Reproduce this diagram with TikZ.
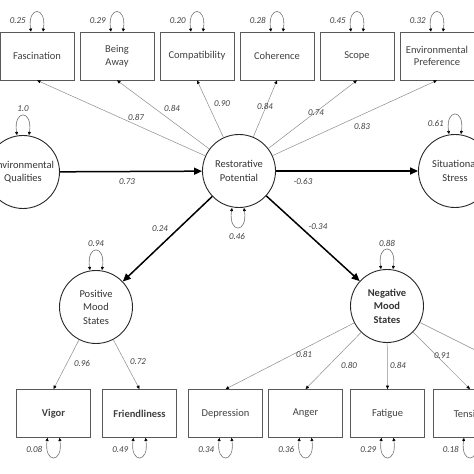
\documentclass[tikz,border=0pt]{standalone}
\usepackage{fontspec}
\setmainfont{Carlito}
\usetikzlibrary{arrows.meta, positioning, calc}

\begin{document}
\begin{tikzpicture}[x=1pt, y=1pt,
    obs/.style={rectangle, draw=black!65, line width=0.7pt, minimum width=74pt, minimum height=48pt, align=center, text=black!75, font=\fontsize{10.5}{12.5}\selectfont},
    lat/.style={circle, draw=black!85, line width=0.9pt, minimum size=73pt, inner sep=0pt, align=center, text=black!80, font=\fontsize{10.5}{13.5}\selectfont},
    coef/.style={font=\fontsize{9}{10}\selectfont\itshape, text=black!75, inner sep=1pt},
    load/.style={draw=black!45, line width=0.5pt, -{Triangle[length=3.5pt, width=3pt, color=black]}},
    causal/.style={draw=black, line width=1.5pt, -{Triangle[length=8pt, width=7pt]}},
    selfloop/.style={draw=black!55, line width=0.6pt, {Triangle[length=3pt, width=3pt, color=black]}-{Triangle[length=3pt, width=3pt, color=black]}}
]
\useasboundingbox (0,0) rectangle (474,474);
\clip (0,0) rectangle (474,474);

% indicators of restorative potential
\node[obs] (fas) at (37,418) {Fascination};
\node[obs] (bea) at (117,418) {Being\\Away};
\node[obs] (cmp) at (197,418) {Compatibility};
\node[obs] (coh) at (277,418) {Coherence};
\node[obs] (sco) at (357,418) {Scope};
\node[obs] (env) at (437,418) {Environmental\\Preference};

% latent variables
\node[lat] (eq) at (23,302) {Environmental\\Qualities};
\node[lat] (rp) at (239,303) {Restorative\\Potential};
\node[lat] (ss) at (455,303) {Situational\\Stress};
\node[lat] (pms) at (96,167) {Positive\\Mood\\States};
\node[lat, font=\fontsize{10.5}{13.5}\selectfont\bfseries] (nms) at (387,168) {Negative\\Mood\\States};

% mood indicators
\node[obs, font=\fontsize{10.5}{12.5}\selectfont\bfseries] (vig) at (53.5,60.5) {Vigor};
\node[obs, font=\fontsize{10.5}{12.5}\selectfont\bfseries] (fri) at (139.5,60.5) {Friendliness};
\node[obs] (dep) at (225.5,60.5) {Depression};
\node[obs] (ang) at (305.5,60.5) {Anger};
\node[obs] (fat) at (387.5,60.5) {Fatigue};
\node[obs] (ten) at (470,60.5) {Tension};
\coordinate (nxt) at (553,85);

% paths
\foreach \b in {fas,bea,cmp,coh,sco,env}
    \draw[load] (rp) -- (\b.south);
\draw[causal] (eq) -- (rp);
\draw[causal] (rp) -- (ss);
\draw[causal] (rp) -- (pms);
\draw[causal] (rp) -- (nms);
\foreach \b in {vig,fri}
    \draw[load] (pms) -- (\b.north);
\foreach \b in {dep,ang,fat,ten}
    \draw[load] (nms) -- (\b.north);
\draw[load] (nms) -- (nxt);

% coefficients
\node[coef] (c-fas) at (136,357) {0.87};
\node[coef] (c-bea) at (172,366) {0.84};
\node[coef] (c-cmp) at (222,370) {0.90};
\node[coef] (c-coh) at (265,368) {0.84};
\node[coef] (c-sco) at (316,361) {0.74};
\node[coef] (c-env) at (362,348) {0.83};
\node[coef] (c-eq) at (127,292) {0.73};
\node[coef] (c-ss) at (303,293) {-0.63};
\node[coef] (c-pms) at (160,245) {0.24};
\node[coef] (c-nms) at (318,247) {-0.34};
\node[coef] (c-vig) at (82,111) {0.96};
\node[coef] (c-fri) at (138,112) {0.72};
\node[coef] (c-dep) at (304,120) {0.81};
\node[coef] (c-ang) at (349,109) {0.80};
\node[coef] (c-fat) at (398,109) {0.84};
\node[coef] (c-ten) at (442,118) {0.91};

% error variances
\foreach \n/\v in {fas/0.25, bea/0.29, cmp/0.20, coh/0.28, sco/0.45, env/0.32, ss/0.61} {
    \draw[selfloop] ([xshift=-6pt]\n.north) .. controls +(-4,26) and +(4,26) .. ([xshift=6pt]\n.north);
    \node[coef, anchor=east] (e-\n) at ([xshift=-10pt, yshift=11pt]\n.north) {\v};
}
\foreach \n/\v in {eq/1.0, pms/0.94, nms/0.88} {
    \draw[selfloop] ([xshift=-6pt]\n.north) .. controls +(-4,26) and +(4,26) .. ([xshift=6pt]\n.north);
    \node[coef] (e-\n) at ([yshift=26pt]\n.north) {\v};
}
\foreach \n/\v in {vig/0.08, fri/0.49, dep/0.34, ang/0.36, fat/0.29, ten/0.18} {
    \draw[selfloop] ([xshift=-6pt]\n.south) .. controls +(-4,-26) and +(4,-26) .. ([xshift=6pt]\n.south);
    \node[coef, anchor=east] (e-\n) at ([xshift=-10pt, yshift=-12pt]\n.south) {\v};
}
\draw[selfloop] ([xshift=-7pt]rp.south) .. controls +(-4,-26) and +(4,-26) .. ([xshift=5pt]rp.south);
\node[coef] (e-rp) at ([xshift=-2pt, yshift=-29pt]rp.south) {0.46};

\end{tikzpicture}
\end{document}
